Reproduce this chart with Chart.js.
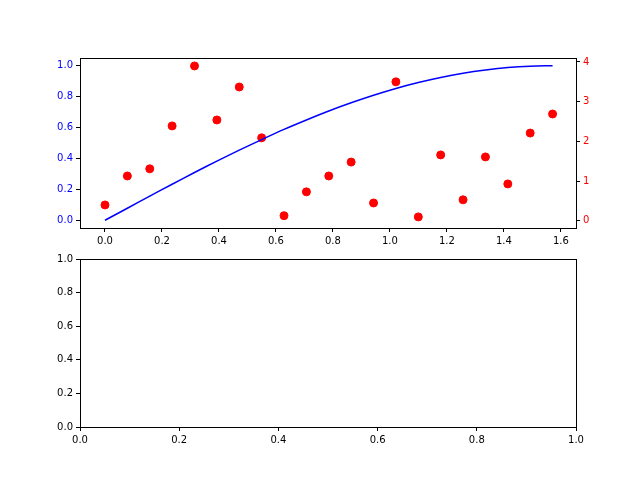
<!DOCTYPE html>
<html>
<head>
<script src="https://cdn.jsdelivr.net/npm/chart.js@4"></script>
<style>
body { margin: 0; background: #fff; }
#wrap { position: relative; width: 640px; height: 480px; }
canvas { position: absolute; left: 0; }
</style>
</head>
<body>
<div id="wrap">
  <canvas id="top" width="640" height="250" style="top:0;width:640px;height:250px"></canvas>
  <canvas id="bottom" width="640" height="230" style="top:250px;width:640px;height:230px"></canvas>
</div>
<script>
// x positions (i * pi/40)
var xVals = [0, 0.0785, 0.1571, 0.2356, 0.3142, 0.3927, 0.4712, 0.5498, 0.6283, 0.7069, 0.7854,
  0.8639, 0.9425, 1.0210, 1.0996, 1.1781, 1.2566, 1.3352, 1.4137, 1.4923, 1.5708];
// blue curve values
var lineVals = [0, 0.078, 0.156, 0.233, 0.309, 0.383, 0.454, 0.522, 0.588, 0.649, 0.707,
  0.760, 0.809, 0.853, 0.891, 0.924, 0.951, 0.972, 0.988, 0.997, 1.0];
// red scatter values (right axis)
var dotVals = [0.40, 1.13, 1.31, 2.39, 3.9, 2.54, 3.37, 2.09, 0.13, 0.73, 1.13,
  1.48, 0.45, 3.5, 0.1, 1.66, 0.53, 1.61, 0.93, 2.21, 2.69];
// tick labels
var topXTicks = [0, 0.2, 0.4, 0.6, 0.8, 1.0, 1.2, 1.4, 1.6];
var unitTicks = [0, 0.2, 0.4, 0.6, 0.8, 1.0];
var rightTicks = [0, 1, 2, 3, 4];

Chart.defaults.font.family = "DejaVu Sans";
Chart.defaults.font.size = 10;
Chart.defaults.animation = false;

var frame = {
  id: 'frame',
  afterDraw: function(c) {
    var a = c.chartArea, ctx = c.ctx;
    ctx.save();
    ctx.strokeStyle = '#000';
    ctx.lineWidth = 1;
    ctx.strokeRect(Math.round(a.left) + 0.5, Math.round(a.top) + 0.5,
      Math.round(a.right - a.left), Math.round(a.bottom - a.top));
    ctx.restore();
  }
};

function axis(pos, min, max, ticks, color, fit, digits) {
  return {
    type: 'linear', position: pos, min: min, max: max,
    afterFit: function(s) { if (pos === 'bottom') s.height = fit; else s.width = fit; },
    afterBuildTicks: function(s) { s.ticks = ticks.map(function(v) { return { value: v }; }); },
    border: { display: false },
    grid: { drawOnChartArea: false, drawTicks: true, tickLength: 4, color: '#000' },
    ticks: {
      color: color, padding: 3,
      callback: function(v) { return Number(v).toFixed(digits); }
    }
  };
}

var pts = function(ys) { return xVals.map(function(x, i) { return { x: x, y: ys[i] }; }); };

new Chart(document.getElementById('top'), {
  type: 'line',
  data: {
    datasets: [
      { data: pts(lineVals), borderColor: '#0000ff', borderWidth: 1.5, pointRadius: 0, yAxisID: 'y', tension: 0.3 },
      { type: 'scatter', data: pts(dotVals), backgroundColor: '#ff0000', borderColor: '#ff0000',
        pointRadius: 4, yAxisID: 'y2' }
    ]
  },
  options: {
    responsive: false,
    layout: { padding: { top: 58, left: 0, right: 0 } },
    plugins: { legend: { display: false }, tooltip: { enabled: false } },
    scales: {
      x: axis('bottom', -0.0877, 1.653, topXTicks, '#000', 22, 1),
      y: axis('left', -0.05, 1.05, unitTicks, '#0000ff', 80, 1),
      y2: axis('right', -0.18, 4.1, rightTicks, '#ff0000', 64, 0)
    }
  },
  plugins: [frame]
});

new Chart(document.getElementById('bottom'), {
  type: 'scatter',
  data: { datasets: [{ data: [] }] },
  options: {
    responsive: false,
    layout: { padding: { top: 8, right: 64 } },
    plugins: { legend: { display: false }, tooltip: { enabled: false } },
    scales: {
      x: axis('bottom', 0, 1, unitTicks, '#000', 53, 1),
      y: axis('left', 0, 1, unitTicks, '#000', 80, 1)
    }
  },
  plugins: [frame]
});
</script>
</body>
</html>
